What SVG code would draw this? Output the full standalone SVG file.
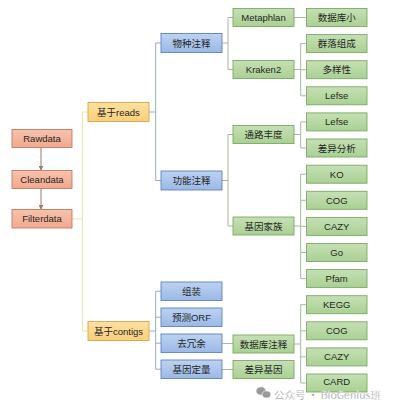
<svg xmlns="http://www.w3.org/2000/svg" width="400" height="400" viewBox="0 0 400 400">
<defs>
<linearGradient id="gR" x1="0" y1="0" x2="0" y2="1"><stop offset="0" stop-color="#f7c2ad"/><stop offset="1" stop-color="#f2a98f"/></linearGradient>
<linearGradient id="gY" x1="0" y1="0" x2="0" y2="1"><stop offset="0" stop-color="#fde0a0"/><stop offset="1" stop-color="#f9cf7a"/></linearGradient>
<linearGradient id="gB" x1="0" y1="0" x2="0" y2="1"><stop offset="0" stop-color="#bcd2f1"/><stop offset="1" stop-color="#9bb9e6"/></linearGradient>
<linearGradient id="gG" x1="0" y1="0" x2="0" y2="1"><stop offset="0" stop-color="#c5e0b4"/><stop offset="1" stop-color="#a9d193"/></linearGradient>
<marker id="arr" viewBox="0 0 6 6" refX="5" refY="3" markerWidth="5" markerHeight="5" orient="auto"><path d="M0,0 L6,3 L0,6 z" fill="#9c7b69"/></marker>
<style>
.r{fill:url(#gR);stroke:#c47a62;stroke-width:0.9}
.y{fill:url(#gY);stroke:#d7a54a;stroke-width:0.9}
.b{fill:url(#gB);stroke:#5f82bd;stroke-width:0.9}
.g{fill:url(#gG);stroke:#7fa766;stroke-width:0.9}
text{font-family:"Liberation Sans","Noto Sans CJK SC",sans-serif;font-size:9.5px;fill:#262626;text-anchor:middle;dominant-baseline:central}
.cy{fill:none;stroke:#efe3a8;stroke-width:1}
.cb{fill:none;stroke:#9aa9c2;stroke-width:1}
.cg{fill:none;stroke:#a7b89c;stroke-width:1}
.ca{fill:none;stroke:#9c7b69;stroke-width:1;marker-end:url(#arr)}
.wm{font-family:"Noto Sans CJK SC","Liberation Sans",sans-serif;font-size:10.5px;fill:#8a8a8a;text-anchor:start;stroke:#fff;stroke-width:0.3}
</style>
</defs>
<rect width="400" height="400" fill="#fff"/>
<g id="connectors">
<path class="ca" d="M41,147.5 V170"/>
<path class="ca" d="M41,188.5 V209"/>
<path class="cy" d="M72,219 H82.5 M82.5,112 V331 M82.5,112 H88 M82.5,331 H88"/>
<path class="cb" d="M149,112 H155.7 M155.7,43 V180.5 M155.7,43 H161 M155.7,180.5 H161"/>
<path class="cb" d="M149,331 H155.7 M155.7,291.2 V369.2 M155.7,291.2 H161 M155.7,317.2 H161 M155.7,343.2 H161 M155.7,369.2 H161"/>
<path class="cg" d="M222,43 H228 M228,17.5 V69.5 M228,17.5 H233 M228,69.5 H233"/>
<path class="cg" d="M222,180.5 H228 M228,134.5 V226 M228,134.5 H233 M228,226 H233"/>
<path class="cg" d="M222,343.5 H233 M222,369.5 H233"/>
<path class="cg" d="M294,17.5 H306.5"/>
<path class="cg" d="M294,69.5 H300.7 M300.7,43.6 V95.8 M300.7,43.6 H306.5 M300.7,69.7 H306.5 M300.7,95.8 H306.5"/>
<path class="cg" d="M294,134.5 H300.7 M300.7,121.9 V148 M300.7,121.9 H306.5 M300.7,148 H306.5"/>
<path class="cg" d="M294,226 H300.7 M300.7,174.2 V278.6 M300.7,174.2 H306.5 M300.7,200.3 H306.5 M300.7,226.4 H306.5 M300.7,252.5 H306.5 M300.7,278.6 H306.5"/>
<path class="cg" d="M294,344 H300.7 M300.7,304.7 V383 M300.7,304.7 H306.5 M300.7,330.8 H306.5 M300.7,356.9 H306.5 M300.7,383 H306.5"/>
</g>
<g id="rawdata"><rect class="r" x="12" y="129.5" width="60" height="18"/><text x="42" y="138.5">Rawdata</text></g>
<g id="cleandata"><rect class="r" x="12" y="170.5" width="60" height="18"/><text x="42" y="179.5">Cleandata</text></g>
<g id="filterdata"><rect class="r" x="12" y="209.5" width="60" height="18.5"/><text x="42" y="218.8">Filterdata</text></g>
<g id="reads"><rect class="y" x="88" y="102.5" width="61" height="19"/><text x="118.5" y="112">基于reads</text></g>
<g id="contigs"><rect class="y" x="88" y="321.5" width="61" height="19"/><text x="118.5" y="331">基于contigs</text></g>
<g id="species"><rect class="b" x="161" y="33.5" width="61" height="19"/><text x="191.5" y="43">物种注释</text></g>
<g id="function"><rect class="b" x="161" y="171" width="61" height="19"/><text x="191.5" y="180.5">功能注释</text></g>
<g id="assemble"><rect class="b" x="161" y="282" width="61" height="18.5"/><text x="191.5" y="291.2">组装</text></g>
<g id="orf"><rect class="b" x="161" y="308" width="61" height="18.5"/><text x="191.5" y="317.2">预测ORF</text></g>
<g id="dedup"><rect class="b" x="161" y="334" width="61" height="18.5"/><text x="191.5" y="343.2">去冗余</text></g>
<g id="quant"><rect class="b" x="161" y="360" width="61" height="18.5"/><text x="191.5" y="369.2">基因定量</text></g>
<g id="metaphlan"><rect class="g" x="233" y="8.5" width="61" height="18"/><text x="263.5" y="17.5">Metaphlan</text></g>
<g id="kraken2"><rect class="g" x="233" y="60.5" width="61" height="18"/><text x="263.5" y="69.5">Kraken2</text></g>
<g id="pathway"><rect class="g" x="233" y="125.5" width="61" height="18"/><text x="263.5" y="134.5">通路丰度</text></g>
<g id="genefamily"><rect class="g" x="233" y="217" width="61" height="18"/><text x="263.5" y="226">基因家族</text></g>
<g id="dbanno"><rect class="g" x="233" y="335" width="61" height="18"/><text x="263.5" y="344">数据库注释</text></g>
<g id="diffgene"><rect class="g" x="233" y="360.5" width="61" height="18"/><text x="263.5" y="369.5">差异基因</text></g>
<g id="dbsmall"><rect class="g" x="306.5" y="8.5" width="60.5" height="18"/><text x="336.7" y="17.5">数据库小</text></g>
<g id="community"><rect class="g" x="306.5" y="34.6" width="60.5" height="18"/><text x="336.7" y="43.6">群落组成</text></g>
<g id="diversity"><rect class="g" x="306.5" y="60.7" width="60.5" height="18"/><text x="336.7" y="69.7">多样性</text></g>
<g id="lefse1"><rect class="g" x="306.5" y="86.8" width="60.5" height="18"/><text x="336.7" y="95.8">Lefse</text></g>
<g id="lefse2"><rect class="g" x="306.5" y="112.9" width="60.5" height="18"/><text x="336.7" y="121.9">Lefse</text></g>
<g id="diffana"><rect class="g" x="306.5" y="139" width="60.5" height="18"/><text x="336.7" y="148">差异分析</text></g>
<g id="ko"><rect class="g" x="306.5" y="165.2" width="60.5" height="18"/><text x="336.7" y="174.2">KO</text></g>
<g id="cog1"><rect class="g" x="306.5" y="191.3" width="60.5" height="18"/><text x="336.7" y="200.3">COG</text></g>
<g id="cazy1"><rect class="g" x="306.5" y="217.4" width="60.5" height="18"/><text x="336.7" y="226.4">CAZY</text></g>
<g id="go"><rect class="g" x="306.5" y="243.5" width="60.5" height="18"/><text x="336.7" y="252.5">Go</text></g>
<g id="pfam"><rect class="g" x="306.5" y="269.6" width="60.5" height="18"/><text x="336.7" y="278.6">Pfam</text></g>
<g id="kegg"><rect class="g" x="306.5" y="295.7" width="60.5" height="18"/><text x="336.7" y="304.7">KEGG</text></g>
<g id="cog2"><rect class="g" x="306.5" y="321.8" width="60.5" height="18"/><text x="336.7" y="330.8">COG</text></g>
<g id="cazy2"><rect class="g" x="306.5" y="347.9" width="60.5" height="18"/><text x="336.7" y="356.9">CAZY</text></g>
<g id="card"><rect class="g" x="306.5" y="374" width="60.5" height="18"/><text x="336.7" y="381">CARD</text></g>
<g id="watermark">
<ellipse cx="261" cy="391" rx="5" ry="4.2" fill="#9a9a9a" stroke="#fff" stroke-width="0.6"/>
<ellipse cx="266.5" cy="394.5" rx="4.3" ry="3.6" fill="#9a9a9a" stroke="#fff" stroke-width="0.6"/>
<text class="wm" x="274" y="394">公众号 · BioGenius班</text>
</g>
</svg>
